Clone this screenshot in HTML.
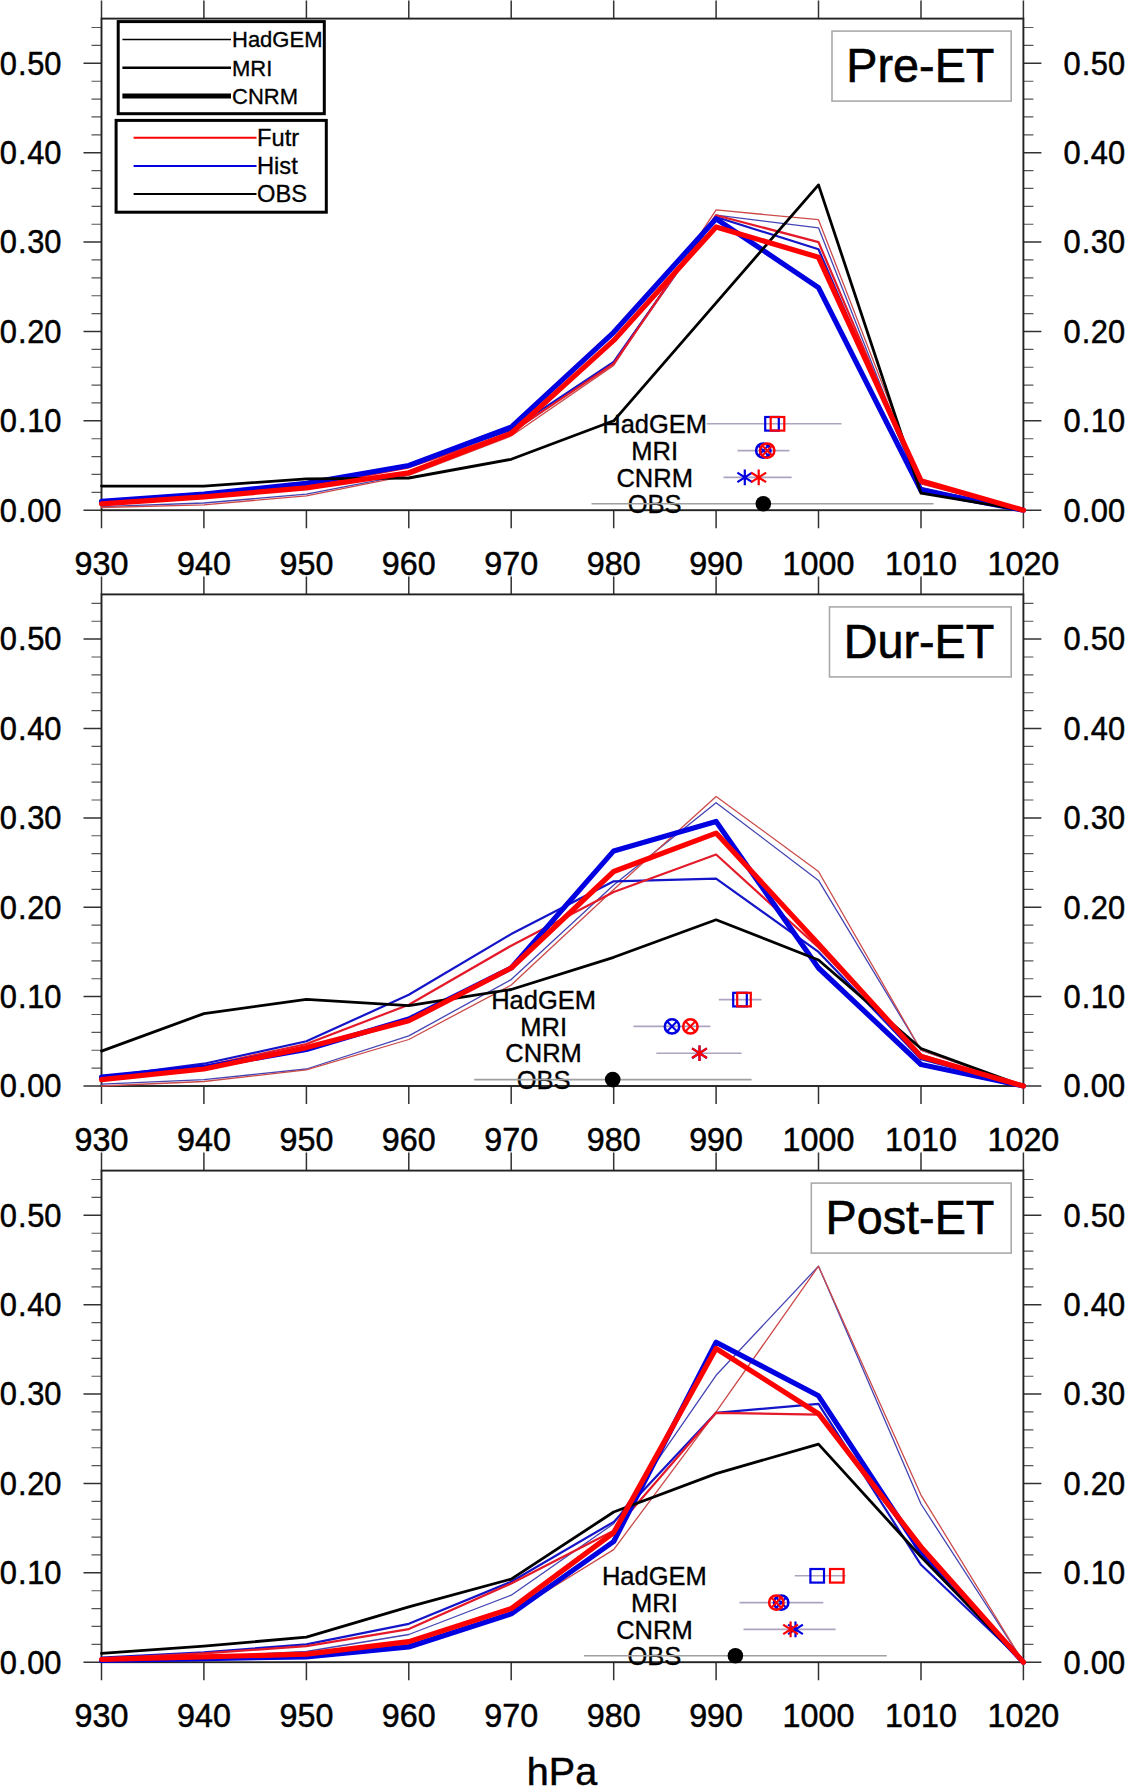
<!DOCTYPE html><html><head><meta charset="utf-8"><style>html,body{margin:0;padding:0;background:#fff;}svg{display:block;}</style></head><body>
<svg width="1125" height="1787" viewBox="0 0 1125 1787" font-family='"Liberation Sans", sans-serif'>
<rect width="1125" height="1787" fill="#fff"/>
<path d="M101.5 510.2V528.2M101.5 18.6V0.6M203.9 510.2V528.2M203.9 18.6V0.6M306.4 510.2V528.2M306.4 18.6V0.6M408.8 510.2V528.2M408.8 18.6V0.6M511.2 510.2V528.2M511.2 18.6V0.6M613.7 510.2V528.2M613.7 18.6V0.6M716.1 510.2V528.2M716.1 18.6V0.6M818.5 510.2V528.2M818.5 18.6V0.6M921.0 510.2V528.2M921.0 18.6V0.6M1023.4 510.2V528.2M1023.4 18.6V0.6M101.5 510.2H83.5M1023.4 510.2H1041.4M101.5 420.8H83.5M1023.4 420.8H1041.4M101.5 331.4H83.5M1023.4 331.4H1041.4M101.5 242.1H83.5M1023.4 242.1H1041.4M101.5 152.7H83.5M1023.4 152.7H1041.4M101.5 63.3H83.5M1023.4 63.3H1041.4" stroke="#333" stroke-width="1.5" fill="none"/>
<path d="M101.5 492.3H91.5M1023.4 492.3H1033.4M101.5 474.4H91.5M1023.4 474.4H1033.4M101.5 456.6H91.5M1023.4 456.6H1033.4M101.5 438.7H91.5M1023.4 438.7H1033.4M101.5 402.9H91.5M1023.4 402.9H1033.4M101.5 385.1H91.5M1023.4 385.1H1033.4M101.5 367.2H91.5M1023.4 367.2H1033.4M101.5 349.3H91.5M1023.4 349.3H1033.4M101.5 313.6H91.5M1023.4 313.6H1033.4M101.5 295.7H91.5M1023.4 295.7H1033.4M101.5 277.8H91.5M1023.4 277.8H1033.4M101.5 259.9H91.5M1023.4 259.9H1033.4M101.5 224.2H91.5M1023.4 224.2H1033.4M101.5 206.3H91.5M1023.4 206.3H1033.4M101.5 188.4H91.5M1023.4 188.4H1033.4M101.5 170.6H91.5M1023.4 170.6H1033.4M101.5 134.8H91.5M1023.4 134.8H1033.4M101.5 116.9H91.5M1023.4 116.9H1033.4M101.5 99.1H91.5M1023.4 99.1H1033.4M101.5 81.2H91.5M1023.4 81.2H1033.4M101.5 45.4H91.5M1023.4 45.4H1033.4M101.5 27.5H91.5M1023.4 27.5H1033.4" stroke="#555" stroke-width="1.15" fill="none"/>
<rect x="832" y="31.1" width="179.2" height="70" fill="#fff" stroke="#aaa" stroke-width="1.6"/>
<text transform="translate(994.4 82.2) scale(0.985 1)" font-size="47.5" text-anchor="end" fill="#000" stroke="#000" stroke-width="0.6">Pre-ET</text>
<rect x="101.5" y="18.6" width="921.9" height="491.6" fill="none" stroke="#222" stroke-width="1.9"/>
<polyline points="101.5,506.6 203.9,503.0 306.4,494.1 408.8,474.4 511.2,433.3 613.7,361.8 716.1,215.2 818.5,227.8 921.0,487.9 1023.4,510.2" fill="none" stroke="#4444b4" stroke-width="1.3" stroke-linejoin="round" stroke-linecap="round"/>
<polyline points="101.5,507.5 203.9,504.8 306.4,495.9 408.8,475.3 511.2,436.0 613.7,365.4 716.1,209.9 818.5,219.7 921.0,483.4 1023.4,510.2" fill="none" stroke="#cc4a4a" stroke-width="1.3" stroke-linejoin="round" stroke-linecap="round"/>
<polyline points="101.5,503.0 203.9,495.9 306.4,485.2 408.8,465.5 511.2,429.8 613.7,361.8 716.1,217.0 818.5,249.2 921.0,487.9 1023.4,510.2" fill="none" stroke="#1414c8" stroke-width="2.2" stroke-linejoin="round" stroke-linecap="round"/>
<polyline points="101.5,503.9 203.9,496.8 306.4,487.0 408.8,467.3 511.2,432.4 613.7,363.6 716.1,215.2 818.5,242.1 921.0,483.4 1023.4,510.2" fill="none" stroke="#e41a2a" stroke-width="2.2" stroke-linejoin="round" stroke-linecap="round"/>
<polyline points="101.5,501.3 203.9,494.1 306.4,483.4 408.8,465.5 511.2,427.1 613.7,332.3 716.1,218.8 818.5,287.6 921.0,490.5 1023.4,510.2" fill="none" stroke="#0000e0" stroke-width="5.2" stroke-linejoin="round" stroke-linecap="round"/>
<polyline points="101.5,486.1 203.9,486.1 306.4,478.9 408.8,478.0 511.2,459.3 613.7,420.8 716.1,302.8 818.5,184.9 921.0,493.2 1023.4,510.2" fill="none" stroke="#000" stroke-width="2.8" stroke-linejoin="round" stroke-linecap="round"/>
<polyline points="101.5,503.9 203.9,496.8 306.4,487.9 408.8,472.7 511.2,433.3 613.7,340.4 716.1,226.9 818.5,257.3 921.0,480.7 1023.4,510.2" fill="none" stroke="#ff0000" stroke-width="5.2" stroke-linejoin="round" stroke-linecap="round"/>
<text x="654.7" y="433.0" font-size="25.5" text-anchor="middle" fill="#000" stroke="#000" stroke-width="0.35">HadGEM</text>
<text x="654.7" y="459.8" font-size="25.5" text-anchor="middle" fill="#000" stroke="#000" stroke-width="0.35">MRI</text>
<text x="654.7" y="486.6" font-size="25.5" text-anchor="middle" fill="#000" stroke="#000" stroke-width="0.35">CNRM</text>
<text x="654.7" y="513.0" font-size="25.5" text-anchor="middle" fill="#000" stroke="#000" stroke-width="0.35">OBS</text>
<path d="M706.6 423.8H841.5" stroke="#aea4c0" stroke-width="1.6"/>
<path d="M737.5 450.6H789.5" stroke="#aea4c0" stroke-width="1.6"/>
<path d="M723.5 477.4H791.7" stroke="#aea4c0" stroke-width="1.6"/>
<path d="M591.5 503.8H933.6" stroke="#a0a0a0" stroke-width="1.6"/>
<rect x="765.2" y="417.0" width="13.6" height="13.6" fill="none" stroke="#0000e0" stroke-width="2.2"/>
<rect x="770.7" y="417.0" width="13.6" height="13.6" fill="none" stroke="#ff0000" stroke-width="2.2"/>
<circle cx="763.3" cy="450.6" r="7.2" fill="none" stroke="#0000e0" stroke-width="2.5"/>
<path d="M758.2 445.5L768.4 455.7M758.2 455.7L768.4 445.5" stroke="#0000e0" stroke-width="2"/>
<circle cx="767.2" cy="450.6" r="7.2" fill="none" stroke="#ff0000" stroke-width="2.5"/>
<path d="M762.1 445.5L772.3 455.7M762.1 455.7L772.3 445.5" stroke="#ff0000" stroke-width="2"/>
<path d="M744.8 469.6V485.2M737.4 472.6L752.2 482.2M737.4 482.2L752.2 472.6" stroke="#0000e0" stroke-width="2.2"/>
<path d="M758.7 469.6V485.2M751.3 472.6L766.1 482.2M751.3 482.2L766.1 472.6" stroke="#ff0000" stroke-width="2.2"/>
<circle cx="763.3" cy="503.8" r="7.8" fill="#000"/>
<text transform="translate(101.5 575.2) scale(0.95 1)" font-size="34" text-anchor="middle" fill="#000" stroke="#000" stroke-width="0.5">930</text>
<text transform="translate(203.9 575.2) scale(0.95 1)" font-size="34" text-anchor="middle" fill="#000" stroke="#000" stroke-width="0.5">940</text>
<text transform="translate(306.4 575.2) scale(0.95 1)" font-size="34" text-anchor="middle" fill="#000" stroke="#000" stroke-width="0.5">950</text>
<text transform="translate(408.8 575.2) scale(0.95 1)" font-size="34" text-anchor="middle" fill="#000" stroke="#000" stroke-width="0.5">960</text>
<text transform="translate(511.2 575.2) scale(0.95 1)" font-size="34" text-anchor="middle" fill="#000" stroke="#000" stroke-width="0.5">970</text>
<text transform="translate(613.7 575.2) scale(0.95 1)" font-size="34" text-anchor="middle" fill="#000" stroke="#000" stroke-width="0.5">980</text>
<text transform="translate(716.1 575.2) scale(0.95 1)" font-size="34" text-anchor="middle" fill="#000" stroke="#000" stroke-width="0.5">990</text>
<text transform="translate(818.5 575.2) scale(0.95 1)" font-size="34" text-anchor="middle" fill="#000" stroke="#000" stroke-width="0.5">1000</text>
<text transform="translate(921.0 575.2) scale(0.95 1)" font-size="34" text-anchor="middle" fill="#000" stroke="#000" stroke-width="0.5">1010</text>
<text transform="translate(1023.4 575.2) scale(0.95 1)" font-size="34" text-anchor="middle" fill="#000" stroke="#000" stroke-width="0.5">1020</text>
<text transform="translate(61.5 521.5) scale(0.95 1)" font-size="32.5" text-anchor="end" fill="#000" stroke="#000" stroke-width="0.5">0<tspan dx="1.2">.</tspan><tspan dx="0.5">00</tspan></text>
<text transform="translate(1063.5 521.5) scale(0.95 1)" font-size="32.5" text-anchor="start" fill="#000" stroke="#000" stroke-width="0.5">0<tspan dx="1.2">.</tspan><tspan dx="0.5">00</tspan></text>
<text transform="translate(61.5 432.1) scale(0.95 1)" font-size="32.5" text-anchor="end" fill="#000" stroke="#000" stroke-width="0.5">0<tspan dx="1.2">.</tspan><tspan dx="0.5">10</tspan></text>
<text transform="translate(1063.5 432.1) scale(0.95 1)" font-size="32.5" text-anchor="start" fill="#000" stroke="#000" stroke-width="0.5">0<tspan dx="1.2">.</tspan><tspan dx="0.5">10</tspan></text>
<text transform="translate(61.5 342.7) scale(0.95 1)" font-size="32.5" text-anchor="end" fill="#000" stroke="#000" stroke-width="0.5">0<tspan dx="1.2">.</tspan><tspan dx="0.5">20</tspan></text>
<text transform="translate(1063.5 342.7) scale(0.95 1)" font-size="32.5" text-anchor="start" fill="#000" stroke="#000" stroke-width="0.5">0<tspan dx="1.2">.</tspan><tspan dx="0.5">20</tspan></text>
<text transform="translate(61.5 253.4) scale(0.95 1)" font-size="32.5" text-anchor="end" fill="#000" stroke="#000" stroke-width="0.5">0<tspan dx="1.2">.</tspan><tspan dx="0.5">30</tspan></text>
<text transform="translate(1063.5 253.4) scale(0.95 1)" font-size="32.5" text-anchor="start" fill="#000" stroke="#000" stroke-width="0.5">0<tspan dx="1.2">.</tspan><tspan dx="0.5">30</tspan></text>
<text transform="translate(61.5 164.0) scale(0.95 1)" font-size="32.5" text-anchor="end" fill="#000" stroke="#000" stroke-width="0.5">0<tspan dx="1.2">.</tspan><tspan dx="0.5">40</tspan></text>
<text transform="translate(1063.5 164.0) scale(0.95 1)" font-size="32.5" text-anchor="start" fill="#000" stroke="#000" stroke-width="0.5">0<tspan dx="1.2">.</tspan><tspan dx="0.5">40</tspan></text>
<text transform="translate(61.5 74.6) scale(0.95 1)" font-size="32.5" text-anchor="end" fill="#000" stroke="#000" stroke-width="0.5">0<tspan dx="1.2">.</tspan><tspan dx="0.5">50</tspan></text>
<text transform="translate(1063.5 74.6) scale(0.95 1)" font-size="32.5" text-anchor="start" fill="#000" stroke="#000" stroke-width="0.5">0<tspan dx="1.2">.</tspan><tspan dx="0.5">50</tspan></text>
<path d="M101.5 1086.0V1104.0M101.5 594.4V576.4M203.9 1086.0V1104.0M203.9 594.4V576.4M306.4 1086.0V1104.0M306.4 594.4V576.4M408.8 1086.0V1104.0M408.8 594.4V576.4M511.2 1086.0V1104.0M511.2 594.4V576.4M613.7 1086.0V1104.0M613.7 594.4V576.4M716.1 1086.0V1104.0M716.1 594.4V576.4M818.5 1086.0V1104.0M818.5 594.4V576.4M921.0 1086.0V1104.0M921.0 594.4V576.4M1023.4 1086.0V1104.0M1023.4 594.4V576.4M101.5 1086.0H83.5M1023.4 1086.0H1041.4M101.5 996.6H83.5M1023.4 996.6H1041.4M101.5 907.2H83.5M1023.4 907.2H1041.4M101.5 817.9H83.5M1023.4 817.9H1041.4M101.5 728.5H83.5M1023.4 728.5H1041.4M101.5 639.1H83.5M1023.4 639.1H1041.4" stroke="#333" stroke-width="1.5" fill="none"/>
<path d="M101.5 1068.1H91.5M1023.4 1068.1H1033.4M101.5 1050.2H91.5M1023.4 1050.2H1033.4M101.5 1032.4H91.5M1023.4 1032.4H1033.4M101.5 1014.5H91.5M1023.4 1014.5H1033.4M101.5 978.7H91.5M1023.4 978.7H1033.4M101.5 960.9H91.5M1023.4 960.9H1033.4M101.5 943.0H91.5M1023.4 943.0H1033.4M101.5 925.1H91.5M1023.4 925.1H1033.4M101.5 889.4H91.5M1023.4 889.4H1033.4M101.5 871.5H91.5M1023.4 871.5H1033.4M101.5 853.6H91.5M1023.4 853.6H1033.4M101.5 835.7H91.5M1023.4 835.7H1033.4M101.5 800.0H91.5M1023.4 800.0H1033.4M101.5 782.1H91.5M1023.4 782.1H1033.4M101.5 764.2H91.5M1023.4 764.2H1033.4M101.5 746.4H91.5M1023.4 746.4H1033.4M101.5 710.6H91.5M1023.4 710.6H1033.4M101.5 692.7H91.5M1023.4 692.7H1033.4M101.5 674.9H91.5M1023.4 674.9H1033.4M101.5 657.0H91.5M1023.4 657.0H1033.4M101.5 621.2H91.5M1023.4 621.2H1033.4M101.5 603.3H91.5M1023.4 603.3H1033.4" stroke="#555" stroke-width="1.15" fill="none"/>
<rect x="829.5" y="606.9" width="181.7" height="70" fill="#fff" stroke="#aaa" stroke-width="1.6"/>
<text transform="translate(994.4 658.0) scale(0.985 1)" font-size="47.5" text-anchor="end" fill="#000" stroke="#000" stroke-width="0.6">Dur-ET</text>
<rect x="101.5" y="594.4" width="921.9" height="491.6" fill="none" stroke="#222" stroke-width="1.9"/>
<polyline points="101.5,1084.2 203.9,1079.7 306.4,1069.0 408.8,1035.9 511.2,979.6 613.7,884.9 716.1,802.7 818.5,880.4 921.0,1050.2 1023.4,1086.0" fill="none" stroke="#4444b4" stroke-width="1.3" stroke-linejoin="round" stroke-linecap="round"/>
<polyline points="101.5,1086.0 203.9,1081.5 306.4,1069.9 408.8,1039.5 511.2,985.0 613.7,889.4 716.1,796.4 818.5,871.5 921.0,1050.2 1023.4,1086.0" fill="none" stroke="#cc4a4a" stroke-width="1.3" stroke-linejoin="round" stroke-linecap="round"/>
<polyline points="101.5,1077.1 203.9,1063.7 306.4,1041.3 408.8,994.8 511.2,934.1 613.7,881.3 716.1,878.6 818.5,951.9 921.0,1059.2 1023.4,1086.0" fill="none" stroke="#1414c8" stroke-width="2.2" stroke-linejoin="round" stroke-linecap="round"/>
<polyline points="101.5,1078.8 203.9,1066.3 306.4,1044.0 408.8,1004.7 511.2,945.7 613.7,892.0 716.1,854.5 818.5,947.5 921.0,1054.7 1023.4,1086.0" fill="none" stroke="#e41a2a" stroke-width="2.2" stroke-linejoin="round" stroke-linecap="round"/>
<polyline points="101.5,1077.1 203.9,1067.2 306.4,1049.4 408.8,1019.0 511.2,968.0 613.7,850.9 716.1,821.4 818.5,968.0 921.0,1064.5 1023.4,1086.0" fill="none" stroke="#0000e0" stroke-width="5.2" stroke-linejoin="round" stroke-linecap="round"/>
<polyline points="101.5,1051.1 203.9,1013.6 306.4,999.3 408.8,1005.6 511.2,989.5 613.7,957.3 716.1,919.8 818.5,960.0 921.0,1048.5 1023.4,1086.0" fill="none" stroke="#000" stroke-width="2.8" stroke-linejoin="round" stroke-linecap="round"/>
<polyline points="101.5,1079.7 203.9,1069.0 306.4,1047.6 408.8,1020.8 511.2,968.0 613.7,871.5 716.1,833.1 818.5,943.9 921.0,1056.5 1023.4,1086.0" fill="none" stroke="#ff0000" stroke-width="5.2" stroke-linejoin="round" stroke-linecap="round"/>
<text x="543.6" y="1008.8" font-size="25.5" text-anchor="middle" fill="#000" stroke="#000" stroke-width="0.35">HadGEM</text>
<text x="543.6" y="1035.6" font-size="25.5" text-anchor="middle" fill="#000" stroke="#000" stroke-width="0.35">MRI</text>
<text x="543.6" y="1062.4" font-size="25.5" text-anchor="middle" fill="#000" stroke="#000" stroke-width="0.35">CNRM</text>
<text x="543.6" y="1088.8" font-size="25.5" text-anchor="middle" fill="#000" stroke="#000" stroke-width="0.35">OBS</text>
<path d="M718.8 999.6H761.5" stroke="#aea4c0" stroke-width="1.6"/>
<path d="M633.5 1026.4H710.3" stroke="#aea4c0" stroke-width="1.6"/>
<path d="M656.3 1053.2H741.6" stroke="#aea4c0" stroke-width="1.6"/>
<path d="M474.2 1079.6H751.6" stroke="#a0a0a0" stroke-width="1.6"/>
<rect x="733.2" y="992.8" width="13.6" height="13.6" fill="none" stroke="#0000e0" stroke-width="2.2"/>
<rect x="737.2" y="992.8" width="13.6" height="13.6" fill="none" stroke="#ff0000" stroke-width="2.2"/>
<circle cx="672.0" cy="1026.4" r="7.2" fill="none" stroke="#0000e0" stroke-width="2.5"/>
<path d="M666.9 1021.3L677.1 1031.5M666.9 1031.5L677.1 1021.3" stroke="#0000e0" stroke-width="2"/>
<circle cx="690.4" cy="1026.4" r="7.2" fill="none" stroke="#ff0000" stroke-width="2.5"/>
<path d="M685.3 1021.3L695.5 1031.5M685.3 1031.5L695.5 1021.3" stroke="#ff0000" stroke-width="2"/>
<path d="M699.5 1045.4V1061.0M692.1 1048.4L706.9 1058.0M692.1 1058.0L706.9 1048.4" stroke="#0000e0" stroke-width="2.2"/>
<path d="M699.5 1045.4V1061.0M692.1 1048.4L706.9 1058.0M692.1 1058.0L706.9 1048.4" stroke="#ff0000" stroke-width="2.2"/>
<circle cx="612.7" cy="1079.6" r="7.8" fill="#000"/>
<text transform="translate(101.5 1151.0) scale(0.95 1)" font-size="34" text-anchor="middle" fill="#000" stroke="#000" stroke-width="0.5">930</text>
<text transform="translate(203.9 1151.0) scale(0.95 1)" font-size="34" text-anchor="middle" fill="#000" stroke="#000" stroke-width="0.5">940</text>
<text transform="translate(306.4 1151.0) scale(0.95 1)" font-size="34" text-anchor="middle" fill="#000" stroke="#000" stroke-width="0.5">950</text>
<text transform="translate(408.8 1151.0) scale(0.95 1)" font-size="34" text-anchor="middle" fill="#000" stroke="#000" stroke-width="0.5">960</text>
<text transform="translate(511.2 1151.0) scale(0.95 1)" font-size="34" text-anchor="middle" fill="#000" stroke="#000" stroke-width="0.5">970</text>
<text transform="translate(613.7 1151.0) scale(0.95 1)" font-size="34" text-anchor="middle" fill="#000" stroke="#000" stroke-width="0.5">980</text>
<text transform="translate(716.1 1151.0) scale(0.95 1)" font-size="34" text-anchor="middle" fill="#000" stroke="#000" stroke-width="0.5">990</text>
<text transform="translate(818.5 1151.0) scale(0.95 1)" font-size="34" text-anchor="middle" fill="#000" stroke="#000" stroke-width="0.5">1000</text>
<text transform="translate(921.0 1151.0) scale(0.95 1)" font-size="34" text-anchor="middle" fill="#000" stroke="#000" stroke-width="0.5">1010</text>
<text transform="translate(1023.4 1151.0) scale(0.95 1)" font-size="34" text-anchor="middle" fill="#000" stroke="#000" stroke-width="0.5">1020</text>
<text transform="translate(61.5 1097.3) scale(0.95 1)" font-size="32.5" text-anchor="end" fill="#000" stroke="#000" stroke-width="0.5">0<tspan dx="1.2">.</tspan><tspan dx="0.5">00</tspan></text>
<text transform="translate(1063.5 1097.3) scale(0.95 1)" font-size="32.5" text-anchor="start" fill="#000" stroke="#000" stroke-width="0.5">0<tspan dx="1.2">.</tspan><tspan dx="0.5">00</tspan></text>
<text transform="translate(61.5 1007.9) scale(0.95 1)" font-size="32.5" text-anchor="end" fill="#000" stroke="#000" stroke-width="0.5">0<tspan dx="1.2">.</tspan><tspan dx="0.5">10</tspan></text>
<text transform="translate(1063.5 1007.9) scale(0.95 1)" font-size="32.5" text-anchor="start" fill="#000" stroke="#000" stroke-width="0.5">0<tspan dx="1.2">.</tspan><tspan dx="0.5">10</tspan></text>
<text transform="translate(61.5 918.5) scale(0.95 1)" font-size="32.5" text-anchor="end" fill="#000" stroke="#000" stroke-width="0.5">0<tspan dx="1.2">.</tspan><tspan dx="0.5">20</tspan></text>
<text transform="translate(1063.5 918.5) scale(0.95 1)" font-size="32.5" text-anchor="start" fill="#000" stroke="#000" stroke-width="0.5">0<tspan dx="1.2">.</tspan><tspan dx="0.5">20</tspan></text>
<text transform="translate(61.5 829.2) scale(0.95 1)" font-size="32.5" text-anchor="end" fill="#000" stroke="#000" stroke-width="0.5">0<tspan dx="1.2">.</tspan><tspan dx="0.5">30</tspan></text>
<text transform="translate(1063.5 829.2) scale(0.95 1)" font-size="32.5" text-anchor="start" fill="#000" stroke="#000" stroke-width="0.5">0<tspan dx="1.2">.</tspan><tspan dx="0.5">30</tspan></text>
<text transform="translate(61.5 739.8) scale(0.95 1)" font-size="32.5" text-anchor="end" fill="#000" stroke="#000" stroke-width="0.5">0<tspan dx="1.2">.</tspan><tspan dx="0.5">40</tspan></text>
<text transform="translate(1063.5 739.8) scale(0.95 1)" font-size="32.5" text-anchor="start" fill="#000" stroke="#000" stroke-width="0.5">0<tspan dx="1.2">.</tspan><tspan dx="0.5">40</tspan></text>
<text transform="translate(61.5 650.4) scale(0.95 1)" font-size="32.5" text-anchor="end" fill="#000" stroke="#000" stroke-width="0.5">0<tspan dx="1.2">.</tspan><tspan dx="0.5">50</tspan></text>
<text transform="translate(1063.5 650.4) scale(0.95 1)" font-size="32.5" text-anchor="start" fill="#000" stroke="#000" stroke-width="0.5">0<tspan dx="1.2">.</tspan><tspan dx="0.5">50</tspan></text>
<path d="M101.5 1662.2V1680.2M101.5 1170.6V1152.6M203.9 1662.2V1680.2M203.9 1170.6V1152.6M306.4 1662.2V1680.2M306.4 1170.6V1152.6M408.8 1662.2V1680.2M408.8 1170.6V1152.6M511.2 1662.2V1680.2M511.2 1170.6V1152.6M613.7 1662.2V1680.2M613.7 1170.6V1152.6M716.1 1662.2V1680.2M716.1 1170.6V1152.6M818.5 1662.2V1680.2M818.5 1170.6V1152.6M921.0 1662.2V1680.2M921.0 1170.6V1152.6M1023.4 1662.2V1680.2M1023.4 1170.6V1152.6M101.5 1662.2H83.5M1023.4 1662.2H1041.4M101.5 1572.8H83.5M1023.4 1572.8H1041.4M101.5 1483.4H83.5M1023.4 1483.4H1041.4M101.5 1394.1H83.5M1023.4 1394.1H1041.4M101.5 1304.7H83.5M1023.4 1304.7H1041.4M101.5 1215.3H83.5M1023.4 1215.3H1041.4" stroke="#333" stroke-width="1.5" fill="none"/>
<path d="M101.5 1644.3H91.5M1023.4 1644.3H1033.4M101.5 1626.4H91.5M1023.4 1626.4H1033.4M101.5 1608.6H91.5M1023.4 1608.6H1033.4M101.5 1590.7H91.5M1023.4 1590.7H1033.4M101.5 1554.9H91.5M1023.4 1554.9H1033.4M101.5 1537.1H91.5M1023.4 1537.1H1033.4M101.5 1519.2H91.5M1023.4 1519.2H1033.4M101.5 1501.3H91.5M1023.4 1501.3H1033.4M101.5 1465.6H91.5M1023.4 1465.6H1033.4M101.5 1447.7H91.5M1023.4 1447.7H1033.4M101.5 1429.8H91.5M1023.4 1429.8H1033.4M101.5 1411.9H91.5M1023.4 1411.9H1033.4M101.5 1376.2H91.5M1023.4 1376.2H1033.4M101.5 1358.3H91.5M1023.4 1358.3H1033.4M101.5 1340.4H91.5M1023.4 1340.4H1033.4M101.5 1322.6H91.5M1023.4 1322.6H1033.4M101.5 1286.8H91.5M1023.4 1286.8H1033.4M101.5 1268.9H91.5M1023.4 1268.9H1033.4M101.5 1251.1H91.5M1023.4 1251.1H1033.4M101.5 1233.2H91.5M1023.4 1233.2H1033.4M101.5 1197.4H91.5M1023.4 1197.4H1033.4M101.5 1179.5H91.5M1023.4 1179.5H1033.4" stroke="#555" stroke-width="1.15" fill="none"/>
<rect x="811.3" y="1183.1" width="199.9" height="70" fill="#fff" stroke="#aaa" stroke-width="1.6"/>
<text transform="translate(994.4 1234.2) scale(0.985 1)" font-size="47.5" text-anchor="end" fill="#000" stroke="#000" stroke-width="0.6">Post-ET</text>
<rect x="101.5" y="1170.6" width="921.9" height="491.6" fill="none" stroke="#222" stroke-width="1.9"/>
<polyline points="101.5,1660.4 203.9,1656.8 306.4,1651.5 408.8,1634.5 511.2,1595.2 613.7,1523.7 716.1,1375.3 818.5,1266.2 921.0,1504.0 1023.4,1662.2" fill="none" stroke="#4444b4" stroke-width="1.3" stroke-linejoin="round" stroke-linecap="round"/>
<polyline points="101.5,1661.3 203.9,1659.5 306.4,1655.9 408.8,1644.3 511.2,1613.0 613.7,1549.6 716.1,1411.9 818.5,1266.2 921.0,1495.1 1023.4,1662.2" fill="none" stroke="#cc4a4a" stroke-width="1.3" stroke-linejoin="round" stroke-linecap="round"/>
<polyline points="101.5,1657.7 203.9,1652.4 306.4,1644.3 408.8,1623.8 511.2,1581.8 613.7,1521.9 716.1,1412.8 818.5,1403.9 921.0,1564.8 1023.4,1662.2" fill="none" stroke="#1414c8" stroke-width="2.2" stroke-linejoin="round" stroke-linecap="round"/>
<polyline points="101.5,1658.6 203.9,1653.3 306.4,1646.1 408.8,1629.1 511.2,1583.5 613.7,1530.8 716.1,1412.8 818.5,1414.6 921.0,1550.5 1023.4,1662.2" fill="none" stroke="#e41a2a" stroke-width="2.2" stroke-linejoin="round" stroke-linecap="round"/>
<polyline points="101.5,1660.4 203.9,1658.6 306.4,1656.8 408.8,1647.0 511.2,1613.9 613.7,1541.5 716.1,1342.2 818.5,1395.8 921.0,1552.3 1023.4,1662.2" fill="none" stroke="#0000e0" stroke-width="5.2" stroke-linejoin="round" stroke-linecap="round"/>
<polyline points="101.5,1653.3 203.9,1646.1 306.4,1637.2 408.8,1606.8 511.2,1579.1 613.7,1512.0 716.1,1473.6 818.5,1444.1 921.0,1556.7 1023.4,1662.2" fill="none" stroke="#000" stroke-width="2.8" stroke-linejoin="round" stroke-linecap="round"/>
<polyline points="101.5,1659.5 203.9,1656.8 306.4,1654.2 408.8,1641.6 511.2,1608.6 613.7,1532.6 716.1,1348.5 818.5,1413.7 921.0,1546.9 1023.4,1662.2" fill="none" stroke="#ff0000" stroke-width="5.2" stroke-linejoin="round" stroke-linecap="round"/>
<text x="654.4" y="1585.0" font-size="25.5" text-anchor="middle" fill="#000" stroke="#000" stroke-width="0.35">HadGEM</text>
<text x="654.4" y="1611.8" font-size="25.5" text-anchor="middle" fill="#000" stroke="#000" stroke-width="0.35">MRI</text>
<text x="654.4" y="1638.6" font-size="25.5" text-anchor="middle" fill="#000" stroke="#000" stroke-width="0.35">CNRM</text>
<text x="654.4" y="1665.0" font-size="25.5" text-anchor="middle" fill="#000" stroke="#000" stroke-width="0.35">OBS</text>
<path d="M794.7 1575.8H845.8" stroke="#aea4c0" stroke-width="1.6"/>
<path d="M739.5 1602.6H823.3" stroke="#aea4c0" stroke-width="1.6"/>
<path d="M743.5 1629.4H835.6" stroke="#aea4c0" stroke-width="1.6"/>
<path d="M584.0 1655.8H886.7" stroke="#a0a0a0" stroke-width="1.6"/>
<rect x="810.4" y="1569.0" width="13.6" height="13.6" fill="none" stroke="#0000e0" stroke-width="2.2"/>
<rect x="830.0" y="1569.0" width="13.6" height="13.6" fill="none" stroke="#ff0000" stroke-width="2.2"/>
<circle cx="781.2" cy="1602.6" r="7.2" fill="none" stroke="#0000e0" stroke-width="2.5"/>
<path d="M776.1 1597.5L786.3 1607.7M776.1 1607.7L786.3 1597.5" stroke="#0000e0" stroke-width="2"/>
<circle cx="776.3" cy="1602.6" r="7.2" fill="none" stroke="#ff0000" stroke-width="2.5"/>
<path d="M771.2 1597.5L781.4 1607.7M771.2 1607.7L781.4 1597.5" stroke="#ff0000" stroke-width="2"/>
<path d="M795.5 1621.6V1637.2M788.1 1624.6L802.9 1634.2M788.1 1634.2L802.9 1624.6" stroke="#0000e0" stroke-width="2.2"/>
<path d="M790.6 1621.6V1637.2M783.2 1624.6L798.0 1634.2M783.2 1634.2L798.0 1624.6" stroke="#ff0000" stroke-width="2.2"/>
<circle cx="735.4" cy="1655.8" r="7.8" fill="#000"/>
<text transform="translate(101.5 1727.2) scale(0.95 1)" font-size="34" text-anchor="middle" fill="#000" stroke="#000" stroke-width="0.5">930</text>
<text transform="translate(203.9 1727.2) scale(0.95 1)" font-size="34" text-anchor="middle" fill="#000" stroke="#000" stroke-width="0.5">940</text>
<text transform="translate(306.4 1727.2) scale(0.95 1)" font-size="34" text-anchor="middle" fill="#000" stroke="#000" stroke-width="0.5">950</text>
<text transform="translate(408.8 1727.2) scale(0.95 1)" font-size="34" text-anchor="middle" fill="#000" stroke="#000" stroke-width="0.5">960</text>
<text transform="translate(511.2 1727.2) scale(0.95 1)" font-size="34" text-anchor="middle" fill="#000" stroke="#000" stroke-width="0.5">970</text>
<text transform="translate(613.7 1727.2) scale(0.95 1)" font-size="34" text-anchor="middle" fill="#000" stroke="#000" stroke-width="0.5">980</text>
<text transform="translate(716.1 1727.2) scale(0.95 1)" font-size="34" text-anchor="middle" fill="#000" stroke="#000" stroke-width="0.5">990</text>
<text transform="translate(818.5 1727.2) scale(0.95 1)" font-size="34" text-anchor="middle" fill="#000" stroke="#000" stroke-width="0.5">1000</text>
<text transform="translate(921.0 1727.2) scale(0.95 1)" font-size="34" text-anchor="middle" fill="#000" stroke="#000" stroke-width="0.5">1010</text>
<text transform="translate(1023.4 1727.2) scale(0.95 1)" font-size="34" text-anchor="middle" fill="#000" stroke="#000" stroke-width="0.5">1020</text>
<text transform="translate(61.5 1673.5) scale(0.95 1)" font-size="32.5" text-anchor="end" fill="#000" stroke="#000" stroke-width="0.5">0<tspan dx="1.2">.</tspan><tspan dx="0.5">00</tspan></text>
<text transform="translate(1063.5 1673.5) scale(0.95 1)" font-size="32.5" text-anchor="start" fill="#000" stroke="#000" stroke-width="0.5">0<tspan dx="1.2">.</tspan><tspan dx="0.5">00</tspan></text>
<text transform="translate(61.5 1584.1) scale(0.95 1)" font-size="32.5" text-anchor="end" fill="#000" stroke="#000" stroke-width="0.5">0<tspan dx="1.2">.</tspan><tspan dx="0.5">10</tspan></text>
<text transform="translate(1063.5 1584.1) scale(0.95 1)" font-size="32.5" text-anchor="start" fill="#000" stroke="#000" stroke-width="0.5">0<tspan dx="1.2">.</tspan><tspan dx="0.5">10</tspan></text>
<text transform="translate(61.5 1494.7) scale(0.95 1)" font-size="32.5" text-anchor="end" fill="#000" stroke="#000" stroke-width="0.5">0<tspan dx="1.2">.</tspan><tspan dx="0.5">20</tspan></text>
<text transform="translate(1063.5 1494.7) scale(0.95 1)" font-size="32.5" text-anchor="start" fill="#000" stroke="#000" stroke-width="0.5">0<tspan dx="1.2">.</tspan><tspan dx="0.5">20</tspan></text>
<text transform="translate(61.5 1405.4) scale(0.95 1)" font-size="32.5" text-anchor="end" fill="#000" stroke="#000" stroke-width="0.5">0<tspan dx="1.2">.</tspan><tspan dx="0.5">30</tspan></text>
<text transform="translate(1063.5 1405.4) scale(0.95 1)" font-size="32.5" text-anchor="start" fill="#000" stroke="#000" stroke-width="0.5">0<tspan dx="1.2">.</tspan><tspan dx="0.5">30</tspan></text>
<text transform="translate(61.5 1316.0) scale(0.95 1)" font-size="32.5" text-anchor="end" fill="#000" stroke="#000" stroke-width="0.5">0<tspan dx="1.2">.</tspan><tspan dx="0.5">40</tspan></text>
<text transform="translate(1063.5 1316.0) scale(0.95 1)" font-size="32.5" text-anchor="start" fill="#000" stroke="#000" stroke-width="0.5">0<tspan dx="1.2">.</tspan><tspan dx="0.5">40</tspan></text>
<text transform="translate(61.5 1226.6) scale(0.95 1)" font-size="32.5" text-anchor="end" fill="#000" stroke="#000" stroke-width="0.5">0<tspan dx="1.2">.</tspan><tspan dx="0.5">50</tspan></text>
<text transform="translate(1063.5 1226.6) scale(0.95 1)" font-size="32.5" text-anchor="start" fill="#000" stroke="#000" stroke-width="0.5">0<tspan dx="1.2">.</tspan><tspan dx="0.5">50</tspan></text>
<rect x="118.2" y="21.6" width="206.1" height="92.1" fill="#fff" stroke="#000" stroke-width="3"/>
<path d="M122.4 39.5H231" stroke="#000" stroke-width="1.3"/>
<text x="232" y="47.3" font-size="22" fill="#000" stroke="#000" stroke-width="0.3">HadGEM</text>
<path d="M122.4 67.7H231" stroke="#000" stroke-width="2.4"/>
<text x="232" y="75.5" font-size="22" fill="#000" stroke="#000" stroke-width="0.3">MRI</text>
<path d="M122.4 95.9H231" stroke="#000" stroke-width="5"/>
<text x="232" y="103.7" font-size="22" fill="#000" stroke="#000" stroke-width="0.3">CNRM</text>
<rect x="116.1" y="120.4" width="210.2" height="91.8" fill="#fff" stroke="#000" stroke-width="3"/>
<path d="M133.6 137.7H256.5" stroke="#ff0000" stroke-width="2"/>
<text x="257" y="145.9" font-size="23.7" fill="#000" stroke="#000" stroke-width="0.3">Futr</text>
<path d="M133.6 165.9H256.5" stroke="#0000e0" stroke-width="2"/>
<text x="257" y="174.1" font-size="23.7" fill="#000" stroke="#000" stroke-width="0.3">Hist</text>
<path d="M133.6 194.1H256.5" stroke="#000" stroke-width="2"/>
<text x="257" y="202.3" font-size="23.7" fill="#000" stroke="#000" stroke-width="0.3">OBS</text>
<text x="562" y="1785" font-size="39.5" text-anchor="middle" fill="#000" stroke="#000" stroke-width="0.5">hPa</text>
</svg></body></html>
